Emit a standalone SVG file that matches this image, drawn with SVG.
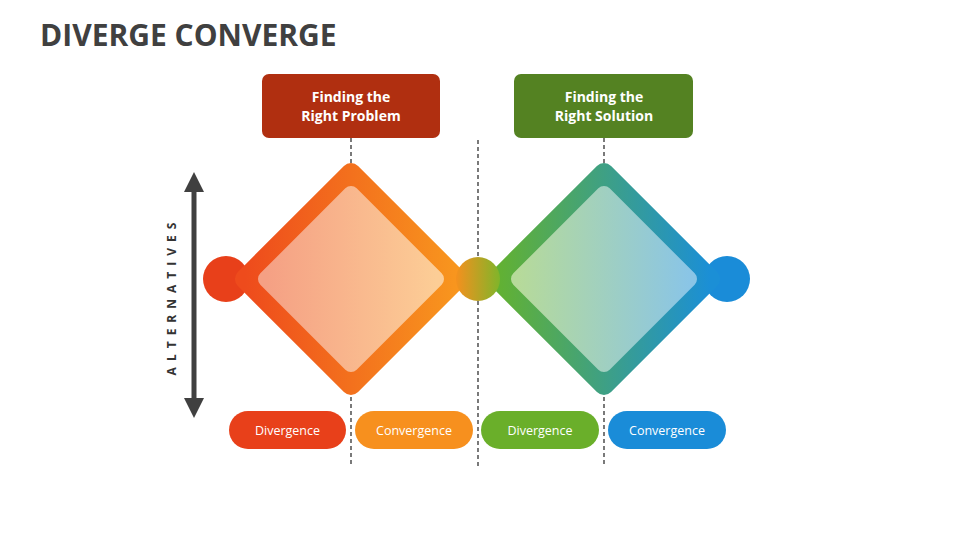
<svg xmlns="http://www.w3.org/2000/svg" width="960" height="540" viewBox="0 0 960 540">
<style>
text{font-family:"Open Sans","Liberation Sans",sans-serif}
.hd{font-size:14px;font-weight:bold;fill:#fff}
.pl{font-size:12.5px;fill:#fff}
.dash{stroke:#333;stroke-width:1.3;stroke-dasharray:4 3}
</style>
<defs>
<linearGradient id="o1" x1="0" x2="1"><stop offset="0" stop-color="#EE4B1C"/><stop offset="1" stop-color="#F8961E"/></linearGradient>
<linearGradient id="i1" x1="0" x2="1"><stop offset="0" stop-color="#F5A084"/><stop offset="1" stop-color="#FCCD96"/></linearGradient>
<linearGradient id="o2" x1="0" x2="1"><stop offset="0" stop-color="#62B132"/><stop offset="1" stop-color="#1B8FD6"/></linearGradient>
<linearGradient id="i2" x1="0" x2="1"><stop offset="0" stop-color="#B6DA9A"/><stop offset="1" stop-color="#8AC5E6"/></linearGradient>
<linearGradient id="mc" x1="0" x2="1"><stop offset="0" stop-color="#F5901E"/><stop offset="1" stop-color="#7FB52A"/></linearGradient>
<marker id="ah" viewBox="0 0 10 10" refX="5" refY="5" markerWidth="4" markerHeight="4" orient="auto-start-reverse"><path d="M0,0 L10,5 L0,10 Z" fill="#404040"/></marker>
</defs>
<text x="40" y="46" font-size="30" font-weight="bold" fill="#404040">DIVERGE CONVERGE</text>
<g id="connectors">
<line class="dash" x1="351" y1="138" x2="351" y2="466"/>
<line class="dash" x1="478" y1="140" x2="478" y2="466"/>
<line class="dash" x1="604" y1="138" x2="604" y2="466"/>
<line x1="194" y1="182" x2="194" y2="408" stroke="#404040" stroke-width="5" marker-start="url(#ah)" marker-end="url(#ah)"/>
</g>
<g id="problem"><rect x="262" y="74" width="178" height="64" rx="7" fill="#B02F10"/>
<text class="hd" x="351" y="102" text-anchor="middle">Finding the</text><text class="hd" x="351" y="121" text-anchor="middle">Right Problem</text></g>
<g id="solution"><rect x="514" y="74" width="179" height="64" rx="7" fill="#548222"/>
<text class="hd" x="604" y="102" text-anchor="middle">Finding the</text><text class="hd" x="604" y="121" text-anchor="middle">Right Solution</text></g>
<g id="circles">
<circle cx="226" cy="279" r="23" fill="#E8401A"/>
<circle cx="727" cy="279" r="23" fill="#1A8CD8"/>
</g>
<g id="diamond1">
<polygon points="351,173 457,279 351,385 245,279" fill="url(#o1)" stroke="url(#o1)" stroke-width="20" stroke-linejoin="round"/>
<polygon points="351,194 436,279 351,364 266,279" fill="url(#i1)" stroke="url(#i1)" stroke-width="16" stroke-linejoin="round"/>
</g>
<g id="diamond2">
<polygon points="604,173 710,279 604,385 498,279" fill="url(#o2)" stroke="url(#o2)" stroke-width="20" stroke-linejoin="round"/>
<polygon points="604,194 689,279 604,364 519,279" fill="url(#i2)" stroke="url(#i2)" stroke-width="16" stroke-linejoin="round"/>
</g>
<g id="mid"><circle cx="478" cy="279" r="22" fill="url(#mc)"/></g>
<g id="axis-label"><text transform="translate(176,296) rotate(-90)" text-anchor="middle" font-size="12" font-weight="bold" fill="#333" letter-spacing="6">ALTERNATIVES</text></g>
<g id="p1"><rect x="229" y="411" width="117" height="38" rx="19" fill="#E8401A"/><text class="pl" x="287.5" y="435" text-anchor="middle">Divergence</text></g>
<g id="p2"><rect x="355" y="411" width="118" height="38" rx="19" fill="#F7901E"/><text class="pl" x="414" y="435" text-anchor="middle">Convergence</text></g>
<g id="p3"><rect x="481" y="411" width="118" height="38" rx="19" fill="#6AAF2A"/><text class="pl" x="540" y="435" text-anchor="middle">Divergence</text></g>
<g id="p4"><rect x="608" y="411" width="118" height="38" rx="19" fill="#1A8CD8"/><text class="pl" x="667" y="435" text-anchor="middle">Convergence</text></g>
</svg>
